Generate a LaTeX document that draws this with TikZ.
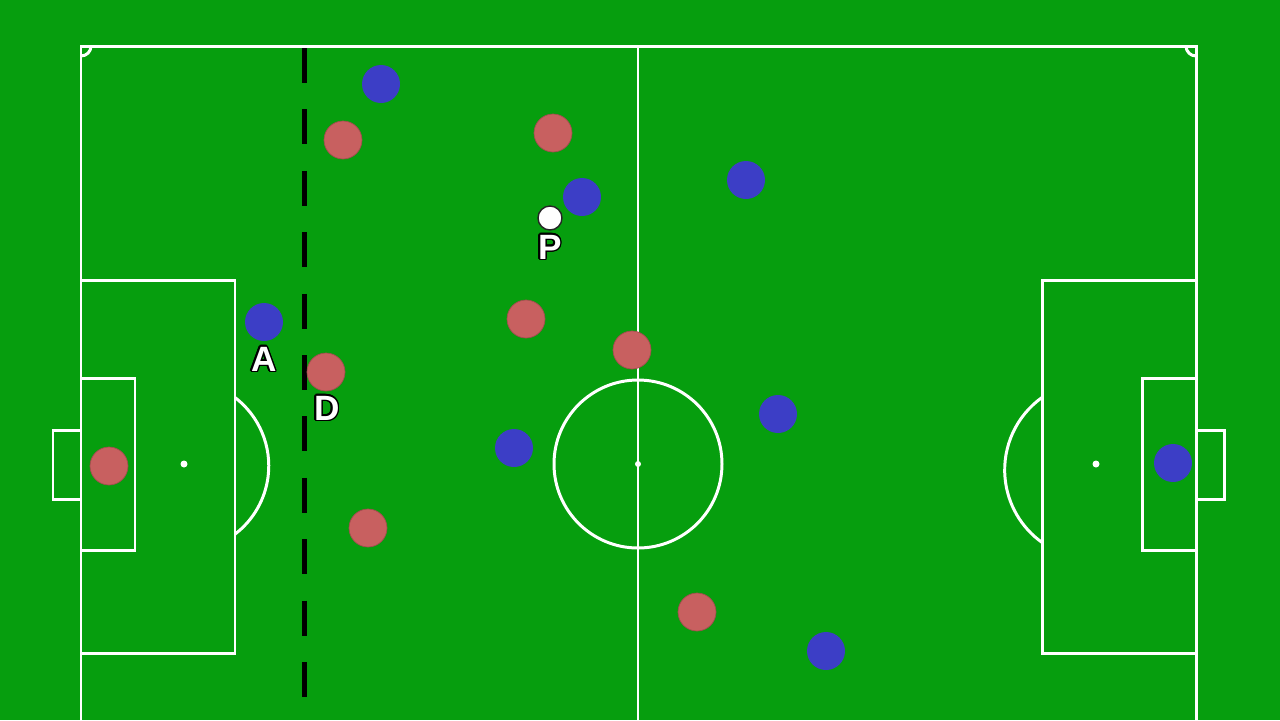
\documentclass[tikz,border=0pt]{standalone}
\usepackage{fontspec}
\setmainfont{Liberation Sans}
\usepackage{contour}
\contourlength{0.45pt}
\definecolor{grass}{RGB}{6,158,14}
\definecolor{teamblue}{RGB}{60,62,198}
\definecolor{teamred}{RGB}{200,96,96}
\begin{document}
\begin{tikzpicture}[x=0.1mm, y=-0.1mm,
    blueplayer/.style ={circle, fill=teamblue, inner sep=0pt, minimum size=3.8mm},
    redplayer/.style ={circle, fill=teamred, draw=teamred!80!black, line width=0.2pt, inner sep=0pt, minimum size=3.8mm},
    ballnode/.style ={circle, fill=white, draw=black!85, line width=0.4pt, inner sep=0pt, minimum size=2.4mm},
    tag/.style ={font=\bfseries\fontsize{10}{10}\selectfont, text=white, inner sep=0pt},
    pitchline/.style ={white, line width=0.85pt}]
   \fill[grass] (0,0) rectangle (1280,720);
   \useasboundingbox (0,0) rectangle (1280,720);

   % pitch
   \draw[pitchline] (81,730) -- (81,46) -- (1196,46) -- (1196,730);
   \draw[pitchline] (638,46) -- (638,730);
   \draw[pitchline] (638,464) circle (84);
   \fill[white] (638,464) circle (3);
   \draw[pitchline] (91,46) arc (0:90:10);
   \draw[pitchline] (1186,46) arc (180:90:10);

   % left end
   \draw[pitchline] (81,280) rectangle (235,653);
   \draw[pitchline] (81,378) rectangle (135,550);
   \draw[pitchline] (81,430) -- (53,430) -- (53,499) -- (81,499);
   \fill[white] (184,464) circle (3.5);
   \draw[pitchline] (235,397.5) arc (-52.6:52.6:86);

   % right end
   \draw[pitchline] (1042,280) rectangle (1196,653);
   \draw[pitchline] (1142,378) rectangle (1196,550);
   \draw[pitchline] (1196,430) -- (1224,430) -- (1224,499) -- (1196,499);
   \fill[white] (1096,464) circle (3.5);
   \draw[pitchline] (1042,397.5) arc (234.5:125.5:89);

   % offside line
   \draw[black, line width=0.5mm, dash pattern=on 3.5mm off 2.64mm] (304,48) -- (304,697);

   % blue team
   \node[blueplayer] (B1) at (381,84) {};
   \node[blueplayer] (B2) at (582,197) {};
   \node[blueplayer] (B3) at (746,180) {};
   \node[blueplayer] (A)  at (264,322) {};
   \node[blueplayer] (B5) at (514,448) {};
   \node[blueplayer] (B6) at (778,414) {};
   \node[blueplayer] (B7) at (1173,463) {};
   \node[blueplayer] (B8) at (826,651) {};

   % red team
   \node[redplayer] (R1) at (343,140) {};
   \node[redplayer] (R2) at (553,133) {};
   \node[redplayer] (R3) at (526,319) {};
   \node[redplayer] (R4) at (632,350) {};
   \node[redplayer] (D)  at (326,372) {};
   \node[redplayer] (R6) at (109,466) {};
   \node[redplayer] (R7) at (368,528) {};
   \node[redplayer] (R8) at (697,612) {};

   % ball
   \node[ballnode] (P) at (550,218) {};

   \node[tag] (labA) at (264,360) {\contour{black}{A}};
   \node[tag] (labD) at (327,409) {\contour{black}{D}};
   \node[tag] (labP) at (550,248) {\contour{black}{P}};
\end{tikzpicture}
\end{document}
